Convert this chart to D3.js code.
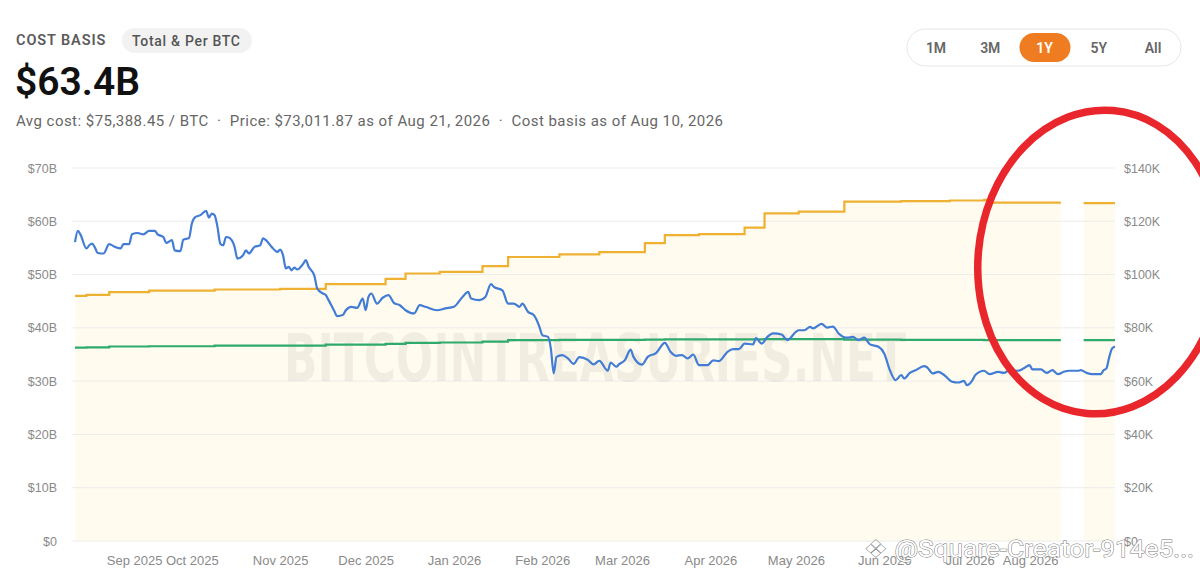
<!DOCTYPE html>
<html>
<head>
<meta charset="utf-8">
<script src="https://cdn.jsdelivr.net/npm/d3@7"></script>
<style>
html, body { margin: 0; padding: 0; background: #fff; }
svg { display: block; font-family: Roboto, "Liberation Sans", sans-serif; }
</style>
</head>
<body>
<svg id="chart" width="1200" height="572"></svg>
<script>
// Total cost basis ($B), step changes; null marks the missing stretch
const totalCost = [
    ["2025-08-21", 46.0], ["2025-08-25", 46.2], ["2025-09-02", 46.7], ["2025-09-16", 47.0],
    ["2025-10-09", 47.2], ["2025-11-01", 47.3], ["2025-11-17", 48.2], ["2025-12-08", 49.2],
    ["2025-12-15", 50.2], ["2025-12-27", 50.5], ["2026-01-11", 51.6], ["2026-01-20", 53.3],
    ["2026-02-07", 53.8], ["2026-02-21", 54.2], ["2026-03-09", 55.9], ["2026-03-16", 57.4],
    ["2026-03-28", 57.6], ["2026-04-13", 58.8], ["2026-04-20", 61.5], ["2026-05-02", 61.8],
    ["2026-05-18", 63.7], ["2026-06-07", 63.8], ["2026-06-24", 63.9], ["2026-07-06", 64.0],
    ["2026-07-07", 63.5], ["2026-08-02", 63.5], ["2026-08-03", null], ["2026-08-10", 63.4],
    ["2026-08-21", 63.4]
];

// Average cost per BTC ($K)
const avgCost = [
    ["2025-08-21", 72.6], ["2025-08-25", 72.7], ["2025-09-02", 73.0], ["2025-09-16", 73.1],
    ["2025-10-09", 73.3], ["2025-11-17", 73.7], ["2025-12-08", 74.0], ["2025-12-15", 74.4],
    ["2025-12-27", 74.5], ["2026-01-11", 74.8], ["2026-01-20", 75.4], ["2026-02-07", 75.5],
    ["2026-03-09", 75.6], ["2026-03-16", 75.7], ["2026-04-20", 75.8], ["2026-05-18", 75.6],
    ["2026-06-07", 75.5], ["2026-07-06", 75.4], ["2026-08-02", 75.4], ["2026-08-03", null],
    ["2026-08-10", 75.39], ["2026-08-21", 75.39]
];

// BTC price ($K)
const btcPrice = [
    ["2025-08-21", 112.2], ["2025-08-22", 116.4], ["2025-08-23", 114.8], ["2025-08-25", 109.8],
    ["2025-08-26", 111.0], ["2025-08-27", 111.6], ["2025-08-28", 110.1], ["2025-08-29", 108.1],
    ["2025-08-31", 107.9], ["2025-09-02", 111.4], ["2025-09-04", 110.4], ["2025-09-06", 109.8],
    ["2025-09-07", 111.4], ["2025-09-09", 111.4], ["2025-09-10", 115.1], ["2025-09-12", 115.6],
    ["2025-09-14", 115.1], ["2025-09-16", 116.4], ["2025-09-18", 116.4], ["2025-09-19", 115.1],
    ["2025-09-21", 114.1], ["2025-09-22", 111.9], ["2025-09-24", 112.9], ["2025-09-25", 109.1],
    ["2025-09-27", 108.8], ["2025-09-28", 113.1], ["2025-09-30", 113.7], ["2025-10-01", 119.1],
    ["2025-10-02", 121.4], ["2025-10-04", 122.3], ["2025-10-06", 123.9], ["2025-10-07", 121.4],
    ["2025-10-08", 122.9], ["2025-10-09", 122.3], ["2025-10-10", 117.9], ["2025-10-11", 111.6],
    ["2025-10-12", 111.0], ["2025-10-13", 114.1], ["2025-10-14", 113.9], ["2025-10-16", 110.4],
    ["2025-10-17", 106.0], ["2025-10-19", 107.3], ["2025-10-20", 109.1], ["2025-10-21", 107.9],
    ["2025-10-23", 110.4], ["2025-10-25", 111.0], ["2025-10-26", 113.6], ["2025-10-27", 112.9],
    ["2025-10-29", 110.4], ["2025-10-31", 108.5], ["2025-11-01", 109.4], ["2025-11-02", 107.3],
    ["2025-11-03", 102.3], ["2025-11-04", 102.9], ["2025-11-05", 101.6], ["2025-11-06", 102.6],
    ["2025-11-07", 101.9], ["2025-11-09", 103.9], ["2025-11-10", 105.4], ["2025-11-11", 102.9],
    ["2025-11-13", 99.6], ["2025-11-14", 94.8], ["2025-11-16", 92.9], ["2025-11-17", 92.3],
    ["2025-11-18", 90.4], ["2025-11-20", 86.3], ["2025-11-21", 84.4], ["2025-11-23", 84.8],
    ["2025-11-24", 86.5], ["2025-11-26", 87.9], ["2025-11-28", 87.5], ["2025-11-30", 91.0],
    ["2025-12-01", 86.6], ["2025-12-02", 91.6], ["2025-12-03", 92.9], ["2025-12-05", 89.1],
    ["2025-12-07", 91.3], ["2025-12-09", 92.3], ["2025-12-11", 89.3], ["2025-12-13", 88.5],
    ["2025-12-15", 86.6], ["2025-12-18", 85.4], ["2025-12-20", 88.5], ["2025-12-22", 87.9],
    ["2025-12-26", 86.6], ["2025-12-29", 87.3], ["2026-01-01", 87.9], ["2026-01-04", 91.6],
    ["2026-01-06", 93.5], ["2026-01-07", 91.0], ["2026-01-10", 90.4], ["2026-01-12", 91.6],
    ["2026-01-14", 96.4], ["2026-01-15", 95.4], ["2026-01-18", 94.1], ["2026-01-20", 89.1],
    ["2026-01-22", 89.1], ["2026-01-24", 87.9], ["2026-01-25", 89.1], ["2026-01-27", 86.0],
    ["2026-01-29", 84.8], ["2026-01-31", 80.4], ["2026-02-01", 77.3], ["2026-02-03", 76.6],
    ["2026-02-04", 72.3], ["2026-02-05", 62.9], ["2026-02-06", 69.1], ["2026-02-08", 69.8],
    ["2026-02-10", 68.5], ["2026-02-12", 66.5], ["2026-02-14", 69.0], ["2026-02-17", 68.0],
    ["2026-02-19", 66.3], ["2026-02-21", 67.6], ["2026-02-24", 63.9], ["2026-02-25", 67.0],
    ["2026-02-27", 65.4], ["2026-02-28", 66.4], ["2026-03-02", 67.9], ["2026-03-04", 71.8],
    ["2026-03-05", 69.1], ["2026-03-08", 66.2], ["2026-03-10", 69.1], ["2026-03-13", 70.6],
    ["2026-03-16", 74.4], ["2026-03-18", 71.0], ["2026-03-20", 69.5], ["2026-03-22", 69.8],
    ["2026-03-24", 68.5], ["2026-03-26", 70.0], ["2026-03-28", 66.0], ["2026-03-31", 66.0],
    ["2026-04-02", 67.8], ["2026-04-04", 67.5], ["2026-04-07", 71.0], ["2026-04-09", 72.0],
    ["2026-04-11", 72.0], ["2026-04-13", 74.1], ["2026-04-16", 73.8], ["2026-04-17", 76.2],
    ["2026-04-19", 74.1], ["2026-04-21", 76.6], ["2026-04-23", 77.9], ["2026-04-26", 77.5],
    ["2026-04-28", 75.4], ["2026-05-01", 78.5], ["2026-05-02", 79.1], ["2026-05-04", 79.1],
    ["2026-05-06", 80.4], ["2026-05-07", 79.8], ["2026-05-10", 81.5], ["2026-05-12", 80.1],
    ["2026-05-14", 80.5], ["2026-05-16", 77.9], ["2026-05-19", 76.3], ["2026-05-21", 76.6],
    ["2026-05-23", 75.4], ["2026-05-25", 76.3], ["2026-05-27", 73.8], ["2026-05-30", 72.9],
    ["2026-06-01", 70.4], ["2026-06-03", 64.1], ["2026-06-05", 60.4], ["2026-06-07", 62.3],
    ["2026-06-08", 61.0], ["2026-06-10", 63.1], ["2026-06-12", 64.1], ["2026-06-15", 65.6],
    ["2026-06-16", 65.2], ["2026-06-18", 62.9], ["2026-06-20", 63.5], ["2026-06-22", 62.3],
    ["2026-06-25", 59.7], ["2026-06-27", 59.5], ["2026-06-29", 60.1], ["2026-06-30", 58.5],
    ["2026-07-02", 60.4], ["2026-07-03", 62.3], ["2026-07-06", 63.9], ["2026-07-08", 62.6],
    ["2026-07-11", 63.5], ["2026-07-13", 63.1], ["2026-07-15", 64.1], ["2026-07-18", 63.9],
    ["2026-07-20", 64.8], ["2026-07-22", 66.0], ["2026-07-23", 64.4], ["2026-07-26", 64.4],
    ["2026-07-28", 63.1], ["2026-07-30", 64.1], ["2026-08-01", 62.6], ["2026-08-03", 63.5],
    ["2026-08-05", 63.9], ["2026-08-08", 63.9], ["2026-08-09", 64.1], ["2026-08-11", 63.1],
    ["2026-08-13", 62.6], ["2026-08-16", 62.6], ["2026-08-17", 64.1], ["2026-08-18", 64.8],
    ["2026-08-19", 69.1], ["2026-08-20", 72.3], ["2026-08-21", 73.0]
];

const leftTicks = [0, 10, 20, 30, 40, 50, 60, 70];      // $B
const rightTicks = [0, 20, 40, 60, 80, 100, 120, 140];  // $K
const ranges = ["1M", "3M", "1Y", "5Y", "All"];
const activeRange = "1Y";

const parse = d3.utcParse("%Y-%m-%d");
const toPoints = arr => arr.map(([d, v]) => ({ date: parse(d), value: v }));
const costPts = toPoints(totalCost);
const avgPts = toPoints(avgCost);
const pricePts = toPoints(btcPrice);

const svg = d3.select("#chart");

// header
svg.append("text").attr("x", 16).attr("y", 45)
    .attr("font-size", 14.5).attr("font-weight", 600).attr("letter-spacing", 0.9)
    .attr("fill", "#5a5a5a").text("COST BASIS");
svg.append("rect").attr("x", 122).attr("y", 28).attr("width", 130).attr("height", 25)
    .attr("rx", 12.5).attr("fill", "#f2f2f2");
svg.append("text").attr("x", 132).attr("y", 45.5)
    .attr("font-size", 14).attr("font-weight", 500).attr("fill", "#555")
    .attr("textLength", 108).attr("lengthAdjust", "spacing")
    .text("Total & Per BTC");
svg.append("text").attr("x", 15).attr("y", 95)
    .attr("font-size", 39).attr("font-weight", 600).attr("fill", "#111")
    .text("$63.4B");
svg.append("text").attr("x", 16).attr("y", 126)
    .attr("font-size", 15).attr("fill", "#666").attr("xml:space", "preserve")
    .attr("textLength", 707).attr("lengthAdjust", "spacing")
    .text("Avg cost: $75,388.45 / BTC  \u00b7  Price: $73,011.87 as of Aug 21, 2026  \u00b7  Cost basis as of Aug 10, 2026");

// range selector
svg.append("rect").attr("x", 907).attr("y", 29).attr("width", 274).attr("height", 37)
    .attr("rx", 18.5).attr("fill", "#fff").attr("stroke", "#e6e6e6");
const rangeX = d3.scalePoint().domain(ranges).range([936, 1153]);
svg.append("rect").attr("x", rangeX(activeRange) - 25).attr("y", 33)
    .attr("width", 51).attr("height", 29).attr("rx", 14.5).attr("fill", "#f07c22");
svg.selectAll(".range").data(ranges).enter().append("text")
    .attr("x", d => rangeX(d)).attr("y", 52.5).attr("text-anchor", "middle")
    .attr("font-size", 14).attr("font-weight", 600)
    .attr("fill", d => d === activeRange ? "#fff" : "#666")
    .text(d => d);

// scales
const x = d3.scaleUtc().domain([parse("2025-08-21"), parse("2026-08-21")]).range([75, 1115]);
const yLeft = d3.scaleLinear().domain([0, 70]).range([541, 168]);
const yRight = d3.scaleLinear().domain([0, 140]).range([541, 168]);

// fill under total cost
const area = d3.area()
    .defined(d => d.value != null)
    .curve(d3.curveStepAfter)
    .x(d => x(d.date)).y0(yLeft(0)).y1(d => yLeft(d.value));
svg.append("path").datum(costPts).attr("d", area).attr("fill", "#fffbee");

// grid
svg.append("g").selectAll("line").data(leftTicks).enter().append("line")
    .attr("x1", 72).attr("x2", 1115)
    .attr("y1", d => yLeft(d)).attr("y2", d => yLeft(d))
    .attr("stroke", "#ececec").attr("stroke-width", 1);

// axes
const leftAxis = svg.append("g").attr("transform", "translate(57,0)")
    .call(d3.axisLeft(yLeft).tickValues(leftTicks).tickSize(0).tickPadding(0)
        .tickFormat(d => d === 0 ? "$0" : `$${d}B`));
const rightAxis = svg.append("g").attr("transform", "translate(1124,0)")
    .call(d3.axisRight(yRight).tickValues(rightTicks).tickSize(0).tickPadding(0)
        .tickFormat(d => d === 0 ? "$0" : `$${d}K`));
const months = d3.utcMonth.range(parse("2025-09-01"), parse("2026-08-02"));
const bottomAxis = svg.append("g").attr("transform", "translate(0,556)")
    .call(d3.axisBottom(x).tickValues(months).tickSize(0).tickPadding(0)
        .tickFormat(d3.utcFormat("%b %Y")));
[leftAxis, rightAxis, bottomAxis].forEach(g => {
    g.select(".domain").remove();
    g.selectAll("text").attr("fill", "#8a8a8a").attr("font-size", 12.5)
        .attr("font-family", "'Liberation Sans', Arial, sans-serif");
});
bottomAxis.selectAll("text").attr("font-size", 13)
    .attr("text-anchor", (d, i) => i === 0 ? "start" : (i === months.length - 1 ? "end" : "middle"));

// watermark
svg.append("text").attr("x", 595).attr("y", 381).attr("text-anchor", "middle")
    .attr("font-family", "'Liberation Sans Narrow', 'DejaVu Sans Condensed', sans-serif")
    .attr("font-weight", 700).attr("font-size", 66)
    .attr("textLength", 622).attr("lengthAdjust", "spacingAndGlyphs")
    .attr("fill", "#000").attr("fill-opacity", 0.055)
    .text("BITCOINTREASURIES.NET");

// lines
const stepLine = yScale => d3.line()
    .defined(d => d.value != null)
    .curve(d3.curveStepAfter)
    .x(d => x(d.date)).y(d => yScale(d.value));
svg.append("path").datum(costPts).attr("d", stepLine(yLeft))
    .attr("fill", "none").attr("stroke", "#eeb132").attr("stroke-width", 2.2);
svg.append("path").datum(avgPts).attr("d", stepLine(yRight))
    .attr("fill", "none").attr("stroke", "#2eaa6c").attr("stroke-width", 2.2);
const priceLine = d3.line().curve(d3.curveMonotoneX)
    .x(d => x(d.date)).y(d => yRight(d.value));
svg.append("path").datum(pricePts).attr("d", priceLine)
    .attr("fill", "none").attr("stroke", "#427cd4").attr("stroke-width", 2.2)
    .attr("stroke-linejoin", "round");

// hand-drawn red circle
svg.append("ellipse").attr("cx", 1100).attr("cy", 262).attr("rx", 122).attr("ry", 152)
    .attr("transform", "rotate(5,1100,262)")
    .attr("fill", "none").attr("stroke", "#e8262c").attr("stroke-width", 7.5);

// bottom-right overlay
svg.append("text").attr("x", 864).attr("y", 557)
    .attr("font-size", 23).attr("fill", "#fff").attr("stroke", "#777").attr("stroke-width", 0.9)
    .attr("paint-order", "stroke")
    .attr("textLength", 330).attr("lengthAdjust", "spacingAndGlyphs")
    .text("\u2756 @Square-Creator-914e5...");
</script>
</body>
</html>
